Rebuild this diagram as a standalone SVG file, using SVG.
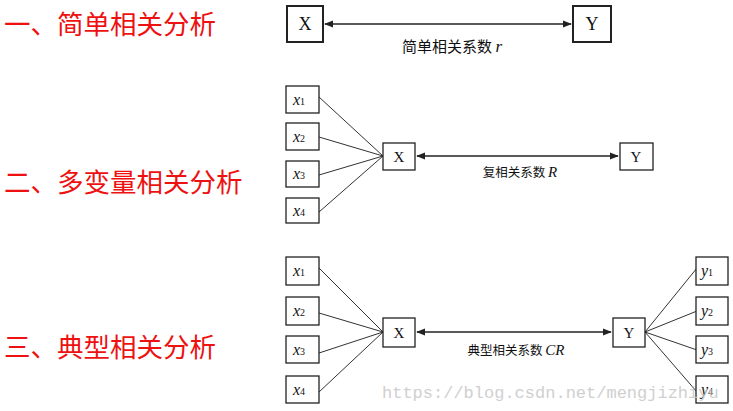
<svg xmlns="http://www.w3.org/2000/svg" width="733" height="411" viewBox="0 0 733 411">
<style>
.t{font-family:"Noto Sans CJK SC",sans-serif;font-size:26.5px;fill:#ee1111}
.b{fill:#fff;stroke:#222;stroke-width:1.3}
.bb{fill:#fff;stroke:#222;stroke-width:2}
.v{font-family:"Liberation Serif",serif;font-size:15px;fill:#111;text-anchor:middle}
.vi{font-family:"Liberation Serif",serif;font-style:italic;font-size:16px;fill:#111}
.s{font-size:10px;font-style:normal}
.c{font-family:"Noto Sans CJK SC",sans-serif;font-size:12.5px;fill:#111;text-anchor:middle}
.l{stroke:#333;stroke-width:1;fill:none}
.a{stroke:#222;stroke-width:1.5;fill:none;marker-start:url(#h);marker-end:url(#h)}
</style>
<defs><marker id="h" viewBox="0 0 10 10" refX="9" refY="5" markerWidth="6" markerHeight="6" orient="auto-start-reverse"><path d="M0,1 L10,5 L0,9 z" fill="#222"/></marker></defs>
<rect width="733" height="411" fill="#fff"/>
<text class="t" x="4" y="34">一、简单相关分析</text>
<text class="t" x="4" y="192">二、多变量相关分析</text>
<text class="t" x="4" y="357">三、典型相关分析</text>
<g id="connectors">
<line class="a" x1="325" y1="24" x2="571" y2="24"/>
<line class="a" x1="417" y1="156" x2="618" y2="156"/>
<line class="a" x1="417" y1="332" x2="611" y2="332"/>
<path class="l" d="M319,97L383,156M319,137L383,156M319,175L383,156M319,212L383,156"/>
<path class="l" d="M319,268L383,332M319,313L383,332M319,353L383,332M319,392L383,332"/>
<path class="l" d="M645,332L697,268M645,332L697,311M645,332L697,350M645,332L697,392"/>
</g>
<text class="c" x="452" y="52" style="font-size:15px">简单相关系数 <tspan font-family="Liberation Serif" font-style="italic" font-size="17">r</tspan></text>
<text class="c" x="520" y="177">复相关系数 <tspan font-family="Liberation Serif" font-style="italic" font-size="15">R</tspan></text>
<text class="c" x="516" y="355">典型相关系数 <tspan font-family="Liberation Serif" font-style="italic" font-size="15">CR</tspan></text>
<g id="X1"><rect class="bb" x="287" y="6" width="36" height="36"/><text class="v" x="305" y="30" style="font-size:18px">X</text></g>
<g id="Y1"><rect class="bb" x="573" y="6" width="38" height="36"/><text class="v" x="592" y="30" style="font-size:18px">Y</text></g>
<g id="x1a"><rect class="b" x="286" y="86" width="33" height="27"/><text class="vi" x="293" y="105">x<tspan class="s">1</tspan></text></g>
<g id="x2a"><rect class="b" x="286" y="123" width="33" height="27"/><text class="vi" x="293" y="142">x<tspan class="s">2</tspan></text></g>
<g id="x3a"><rect class="b" x="286" y="161" width="33" height="26"/><text class="vi" x="293" y="179">x<tspan class="s">3</tspan></text></g>
<g id="x4a"><rect class="b" x="286" y="198" width="33" height="25"/><text class="vi" x="293" y="216">x<tspan class="s">4</tspan></text></g>
<g id="X2"><rect class="b" x="383" y="143" width="32" height="27"/><text class="v" x="399" y="162">X</text></g>
<g id="Y2"><rect class="b" x="620" y="143" width="33" height="27"/><text class="v" x="636" y="162">Y</text></g>
<g id="x1b"><rect class="b" x="286" y="257" width="33" height="28"/><text class="vi" x="293" y="276">x<tspan class="s">1</tspan></text></g>
<g id="x2b"><rect class="b" x="286" y="297" width="33" height="28"/><text class="vi" x="293" y="316">x<tspan class="s">2</tspan></text></g>
<g id="x3b"><rect class="b" x="286" y="336" width="33" height="27"/><text class="vi" x="293" y="355">x<tspan class="s">3</tspan></text></g>
<g id="x4b"><rect class="b" x="286" y="376" width="33" height="27"/><text class="vi" x="293" y="395">x<tspan class="s">4</tspan></text></g>
<g id="X3"><rect class="b" x="383" y="318" width="32" height="29"/><text class="v" x="399" y="338">X</text></g>
<g id="Y3"><rect class="b" x="613" y="318" width="32" height="29"/><text class="v" x="629" y="338">Y</text></g>
<g id="y1"><rect class="b" x="696" y="257" width="32" height="28"/><text class="vi" x="701" y="276">y<tspan class="s">1</tspan></text></g>
<g id="y2"><rect class="b" x="696" y="297" width="32" height="28"/><text class="vi" x="701" y="316">y<tspan class="s">2</tspan></text></g>
<g id="y3"><rect class="b" x="696" y="336" width="32" height="27"/><text class="vi" x="701" y="355">y<tspan class="s">3</tspan></text></g>
<g id="y4"><rect class="b" x="696" y="376" width="32" height="27"/><text class="vi" x="701" y="395">y<tspan class="s">4</tspan></text></g>
<text x="382" y="398" style="font-family:'Liberation Mono',monospace;font-size:17px;fill:#c8c8c8;opacity:0.85">https://blog.csdn.net/mengjizhiyu</text>
</svg>
